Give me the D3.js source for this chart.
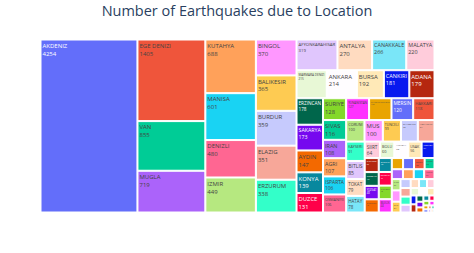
<!DOCTYPE html>
<html>
<head>
<meta charset="utf-8">
<script src="https://cdn.jsdelivr.net/npm/d3@7"></script>
<style>
    body { margin: 0; background: #fff; }
    svg { font-family: "Open Sans", verdana, arial, sans-serif; }
</style>
</head>
<body>
<div id="chart"></div>
<script>
// Lokasi gempa dan jumlahnya (urut dari terbesar)
var locations = [
    "AKDENIZ", "EGE DENIZI", "VAN", "MUGLA", "KUTAHYA", "MANISA", "DENIZLI", "IZMIR",
    "BINGOL", "BALIKESIR", "BURDUR", "ELAZIG", "ERZURUM", "AFYONKARAHISAR", "ANTALYA",
    "CANAKKALE", "MALATYA", "MARMARA DENIZI", "ANKARA", "BURSA", "CANKIRI", "ADANA",
    "ERZINCAN", "SAKARYA", "AYDIN", "KONYA", "DUZCE", "SURIYE", "YUNANISTAN",
    "KAHRAMANMARAS", "MERSIN", "HAKKARI", "SIVAS", "IRAN", "AGRI", "ISPARTA", "OSMANIYE",
    "CORUM", "MUS", "TUNCELI", "DIYARBAKIR", "ADIYAMAN", "KAYSERI", "BITLIS", "TOKAT",
    "HATAY", "SIIRT", "BOLU", "AMASYA", "USAK", "KOCAELI", "GAZIANTEP", "KIRSEHIR",
    "YOZGAT", "SANLIURFA", "BATMAN", "ESKISEHIR", "KARABUK", "BILECIK", "ZONGULDAK",
    "GIRESUN", "ORDU", "NIGDE", "KIRIKKALE", "SAMSUN", "TRABZON", "ARTVIN", "KARS",
    "KIBRIS", "IRAK", "ERMENISTAN", "MARDIN", "AKSARAY", "NEVSEHIR", "KASTAMONU", "SINOP",
    "KARAMAN", "ARDAHAN", "GUMUSHANE", "IGDIR", "SIRNAK", "BARTIN", "RIZE", "YALOVA",
    "KILIS", "BAYBURT", "EDIRNE", "TEKIRDAG", "KIRKLARELI", "ISTANBUL", "KARADENIZ",
    "GURCISTAN", "BULGARISTAN", "AZERBAYCAN", "NAHCIVAN", "ISRAIL"
];
var counts = [
    4254, 1405, 855, 719, 688, 601, 480, 449,
    370, 365, 359, 351, 338, 319, 270,
    266, 220, 215, 214, 192, 181, 179,
    178, 173, 147, 139, 131, 128, 127,
    124, 120, 118, 116, 108, 107, 106, 106,
    100, 100, 99, 92, 91, 91, 85, 79,
    78, 64, 60, 58, 56, 54, 50, 49,
    48, 47, 46, 45, 45, 44, 32,
    31, 30, 28, 28, 27, 26, 26, 25,
    25, 24, 23, 22, 21, 20, 19, 18,
    17, 16, 15, 14, 13, 12, 11, 10,
    9, 8, 7, 7, 6, 5, 4,
    3, 3, 2, 2, 1
];
var baseColors = ["#636efa", "#EF553B", "#00cc96", "#ab63fa", "#FFA15A",
                  "#19d3f3", "#FF6692", "#B6E880", "#FF97FF", "#FECB52"];

var width = 474;
var height = 253;
var margin = { top: 40, right: 40, bottom: 41, left: 41 };

// Warna: dasar, lebih terang 20%, lebih gelap 20%
function shift(c, amount) {
    var h = d3.hsl(c);
    h.l = Math.max(0, Math.min(1, h.l + amount));
    return h.formatHex();
}
var colorway = baseColors.slice();
baseColors.forEach(function(c) { colorway.push(shift(c, 0.2)); });
baseColors.forEach(function(c) { colorway.push(shift(c, -0.2)); });

function textColor(c) {
    var r = d3.rgb(c);
    var b = (r.r * 299 + r.g * 587 + r.b * 114) / 1000;
    return b < 128 ? "#ffffff" : "#444444";
}

var data = locations.map(function(name, i) { return { name: name, value: counts[i] }; });

var svg = d3.select("#chart")
    .append("svg")
    .attr("width", width)
    .attr("height", height);

var root = d3.hierarchy({ children: data })
    .sum(function(d) { return d.value || 0; })
    .sort(function(a, b) { return b.value - a.value; });

d3.treemap()
    .tile(d3.treemapSquarify.ratio(1))
    .size([width - margin.left - margin.right, height - margin.top - margin.bottom])
    .paddingInner(1)(root);

var leaves = root.leaves();

var cell = svg.append("g")
    .attr("transform", "translate(" + margin.left + "," + margin.top + ")")
    .selectAll("g")
    .data(leaves)
    .enter()
    .append("g");

cell.append("rect")
    .attr("x", function(d) { return d.x0; })
    .attr("y", function(d) { return d.y0; })
    .attr("width", function(d) { return Math.max(0, d.x1 - d.x0); })
    .attr("height", function(d) { return Math.max(0, d.y1 - d.y0); })
    .attr("fill", function(d, i) { return colorway[i % colorway.length]; })
    .attr("stroke", "#fff")
    .attr("stroke-width", 1);

// Label di pojok kiri atas, diperkecil kalau tidak muat
cell.each(function(d, i) {
    var w = d.x1 - d.x0, h = d.y1 - d.y0;
    var t = d3.select(this).append("text")
        .style("font-size", "6px")
        .attr("fill", textColor(colorway[i % colorway.length]));
    t.append("tspan").attr("x", 0).attr("y", 0).text(d.data.name);
    t.append("tspan").attr("x", 0).attr("dy", "1.3em").text(d.data.value);
    var bb = t.node().getBBox();
    var s = Math.min(1, (w - 3) / bb.width, (h - 3) / bb.height);
    // kotak terlalu kecil: label tidak terbaca, jadi tidak digambar
    if (s < 0.3) { t.remove(); return; }
    t.attr("transform", "translate(" + (d.x0 + 1.5) + "," + (d.y0 + 1.8) + ") scale(" + s + ") translate(0," + (-bb.y) + ")");
});

// Judul
svg.append("text")
    .attr("x", width / 2)
    .attr("y", 15.5)
    .attr("text-anchor", "middle")
    .style("font-size", "14.5px")
    .style("fill", "#2a3f5f")
    .text("Number of Earthquakes due to Location");
</script>
</body>
</html>
